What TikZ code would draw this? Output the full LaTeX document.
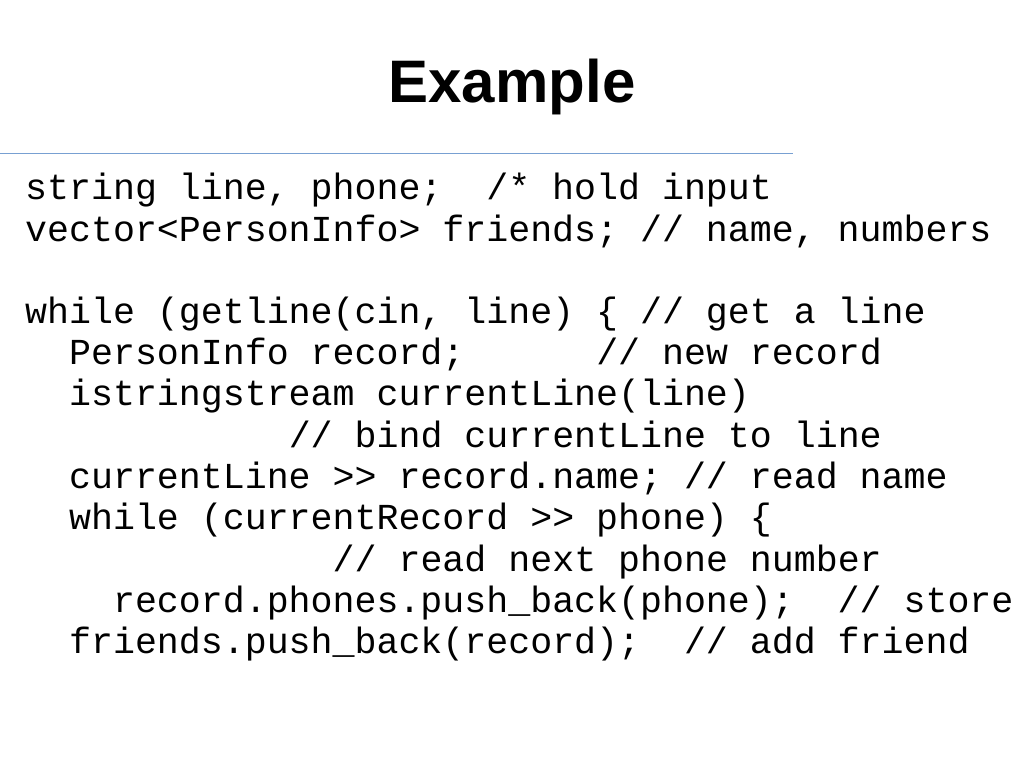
\documentclass[tikz,border=0pt]{standalone}
\usepackage{fontspec}
\setmainfont{Liberation Sans}
\newfontfamily\codefont{Liberation Mono}
\begin{document}
\begin{tikzpicture}[x=1pt,y=1pt,
  code/.style={anchor=base west,inner sep=0pt,font=\codefont\fontsize{36.6}{40}\selectfont}]
\useasboundingbox (0,0) rectangle (1024,-768);
\node[anchor=base,inner sep=0pt,font=\bfseries\fontsize{60}{70}\selectfont] (title) at (512,-102) {Example};
\coordinate (l1) at (0,-153); \coordinate (l2) at (793,-153);
\draw[color={rgb,255:red,120;green,160;blue,210},line width=1pt] (l1) -- (l2);
\node[code] (c1) at (25,-199) {string line, phone;\ \ /* hold input};
\node[code] (c2) at (25,-241) {vector<PersonInfo> friends; // name, numbers};
\node[code] (c3) at (25,-323) {while (getline(cin, line) \{ // get a line};
\node[code] (c4) at (25,-364) {\ \ PersonInfo record;\ \ \ \ \ \ // new record};
\node[code] (c5) at (25,-405) {\ \ istringstream currentLine(line)};
\node[code] (c6) at (25,-447) {\ \ \ \ \ \ \ \ \ \ \ \ // bind currentLine to line};
\node[code] (c7) at (25,-488) {\ \ currentLine >> record.name; // read name};
\node[code] (c8) at (25,-529) {\ \ while (currentRecord >> phone) \{};
\node[code] (c9) at (25,-571) {\ \ \ \ \ \ \ \ \ \ \ \ \ \ // read next phone number};
\node[code] (c10) at (25,-612) {\ \ \ \ record.phones.push\_back(phone);\ \ // store};
\node[code] (c11) at (25,-653) {\ \ friends.push\_back(record);\ \ // add friend};
\end{tikzpicture}
\end{document}
